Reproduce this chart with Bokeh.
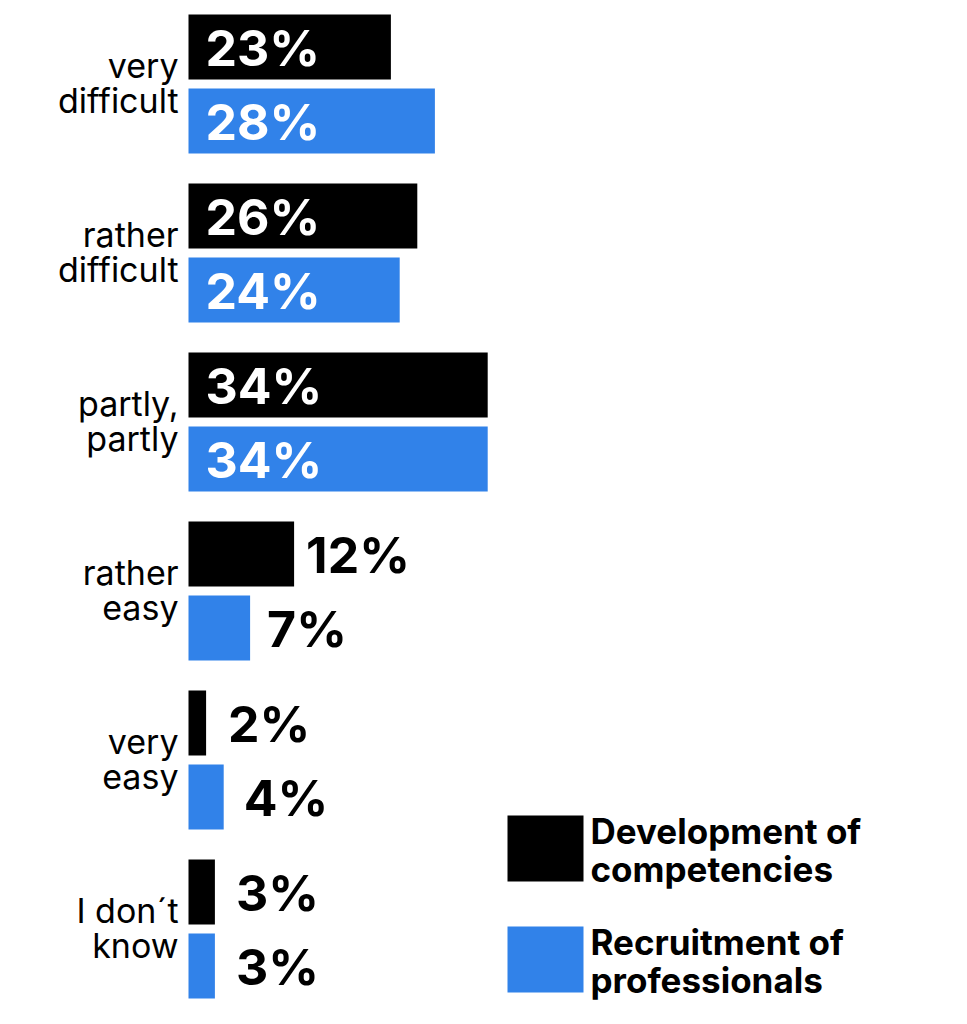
from bokeh.plotting import figure
from bokeh.models import Range1d, ColumnDataSource
from bokeh.core.properties import value
from bokeh.embed import file_html
from bokeh.resources import INLINE

categories = ["very\ndifficult", "rather\ndifficult", "partly,\npartly",
              "rather\neasy", "very\neasy", "I don´t\nknow"]
development = [23, 26, 34, 12, 2, 3]
recruitment = [28, 24, 34, 7, 4, 3]
series_names = ["Development of\ncompetencies", "Recruitment of\nprofessionals"]
colors = ["#000000", "#3182E9"]

FONT = value("Inter")
W, H = 959, 1016
X0 = 188.0      # pixel position of 0 %
SCALE = 8.8     # pixels per percent
PITCH = 169.0   # pixels between groups
TOP = 83.5      # centre of first group
BAR_H = 65
HALF = 37


def px2x(px):
    return (px - X0) / SCALE


p = figure(width=W, height=H,
           x_range=Range1d(px2x(0), px2x(W)), y_range=Range1d(H, 0),
           x_axis_type=None, y_axis_type=None,
           toolbar_location=None, output_backend="svg", min_border=0)
p.outline_line_color = None
p.grid.visible = False
p.background_fill_color = "white"

centers = [TOP + i * PITCH for i in range(len(categories))]

for s, (vals, off) in enumerate([(development, -HALF), (recruitment, HALF)]):
    ys = [c + off for c in centers]
    p.hbar(y=ys, left=0, right=vals, height=BAR_H, color=colors[s], line_color=None)
    xs, xo, tc = [], [], []
    for v in vals:
        if v >= 20:
            xs.append(0); xo.append(17); tc.append("white")
        else:
            xs.append(v); xo.append(24 - v); tc.append("black")
    src = ColumnDataSource(dict(x=xs, y=[y + 1 for y in ys], xo=xo, c=tc,
                                t=[f"{v}%" for v in vals]))
    p.text(x="x", y="y", text="t", x_offset="xo", text_color="c", source=src,
           text_font=FONT, text_font_style="bold", text_font_size="50px",
           text_baseline="middle", text_align="left")

# category labels
l1 = [c.split("\n")[0] for c in categories]
l2 = [c.split("\n")[1] for c in categories]
for lines, dy in [(l1, -18.5), (l2, 16.5)]:
    p.text(x=[px2x(178)] * len(lines), y=[c + dy for c in centers], text=lines,
           text_font=FONT, text_font_size="34px", text_color="black",
           text_align="right", text_baseline="middle")

# legend
leg_tops = [815, 926]
for s, name in enumerate(series_names):
    t = leg_tops[s]
    p.quad(left=px2x(507), right=px2x(583), top=t, bottom=t + 66,
           color=colors[s], line_color=None)
    a, b = name.split("\n")
    p.text(x=[px2x(590)] * 2, y=[t + 15, t + 53], text=[a, b],
           text_font=FONT, text_font_style="bold", text_font_size="35px",
           text_color="black", text_align="left", text_baseline="middle")

open("out.html", "w").write(file_html(p, INLINE))
